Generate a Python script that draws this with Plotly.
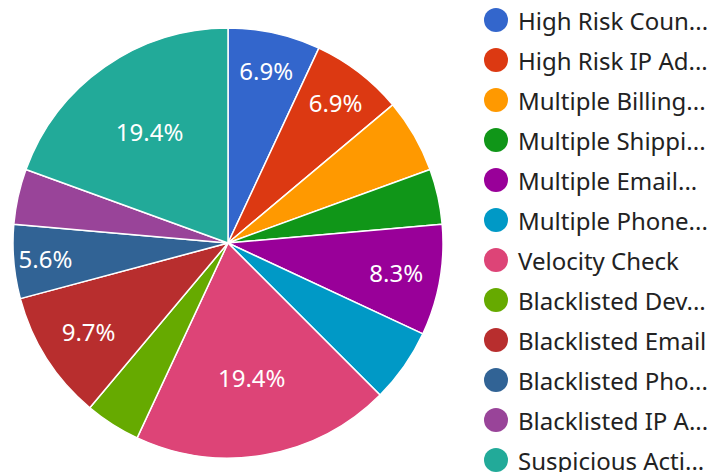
import plotly.graph_objects as go

categories = ["High Risk Coun...", "High Risk IP Ad...", "Multiple Billing...", "Multiple Shippi...",
              "Multiple Email...", "Multiple Phone...", "Velocity Check", "Blacklisted Dev...",
              "Blacklisted Email", "Blacklisted Pho...", "Blacklisted IP A...", "Suspicious Acti..."]
counts = [5, 5, 4, 3, 6, 4, 14, 3, 7, 4, 3, 14]

colors = ["#3366cc", "#dc3912", "#ff9900", "#109618", "#990099", "#0099c6",
          "#dd4477", "#66aa00", "#b82e2e", "#316395", "#994499", "#22aa99"]
label_visible = [True, True, False, False, True, False, True, False, True, True, False, True]

W, H = 713, 472
FONT = "Noto Sans"

fig = go.Figure()
fig.add_trace(go.Pie(
    labels=categories, values=counts, sort=False, direction="clockwise", rotation=0,
    marker=dict(colors=colors, line=dict(color="white", width=1.5)),
    texttemplate="%{percent:.1%}",
    textposition=["inside" if v else "none" for v in label_visible],
    insidetextorientation="horizontal",
    textfont=dict(family=FONT, size=24, color="white"),
    domain=dict(x=[13 / W, 443 / W], y=[(H - 458) / H, (H - 28) / H]),
    showlegend=False, hoverinfo="label+value+percent",
))

# Legend (circle markers + labels)
shapes, annotations = [], []
for i, (lab, col) in enumerate(zip(categories, colors)):
    cy = 20 + 40 * i
    yp = 1 - cy / H
    shapes.append(dict(type="circle", xref="paper", yref="paper", xsizemode="pixel", ysizemode="pixel",
                       xanchor=496 / W, yanchor=yp, x0=-12, x1=12, y0=-12, y1=12,
                       fillcolor=col, line=dict(width=0)))
    annotations.append(dict(x=516 / W, y=yp, xref="paper", yref="paper", xanchor="left", yanchor="middle",
                            text=lab, showarrow=False, font=dict(family=FONT, size=24, color="#222222")))

fig.update_layout(
    width=W, height=H, margin=dict(l=0, r=0, t=0, b=0),
    paper_bgcolor="white", plot_bgcolor="white",
    shapes=shapes, annotations=annotations,
    font=dict(family=FONT),
)
fig.write_html("out.html", config={"displayModeBar": False},
               post_script="document.body.style.margin='0';document.body.style.overflow='hidden';")
